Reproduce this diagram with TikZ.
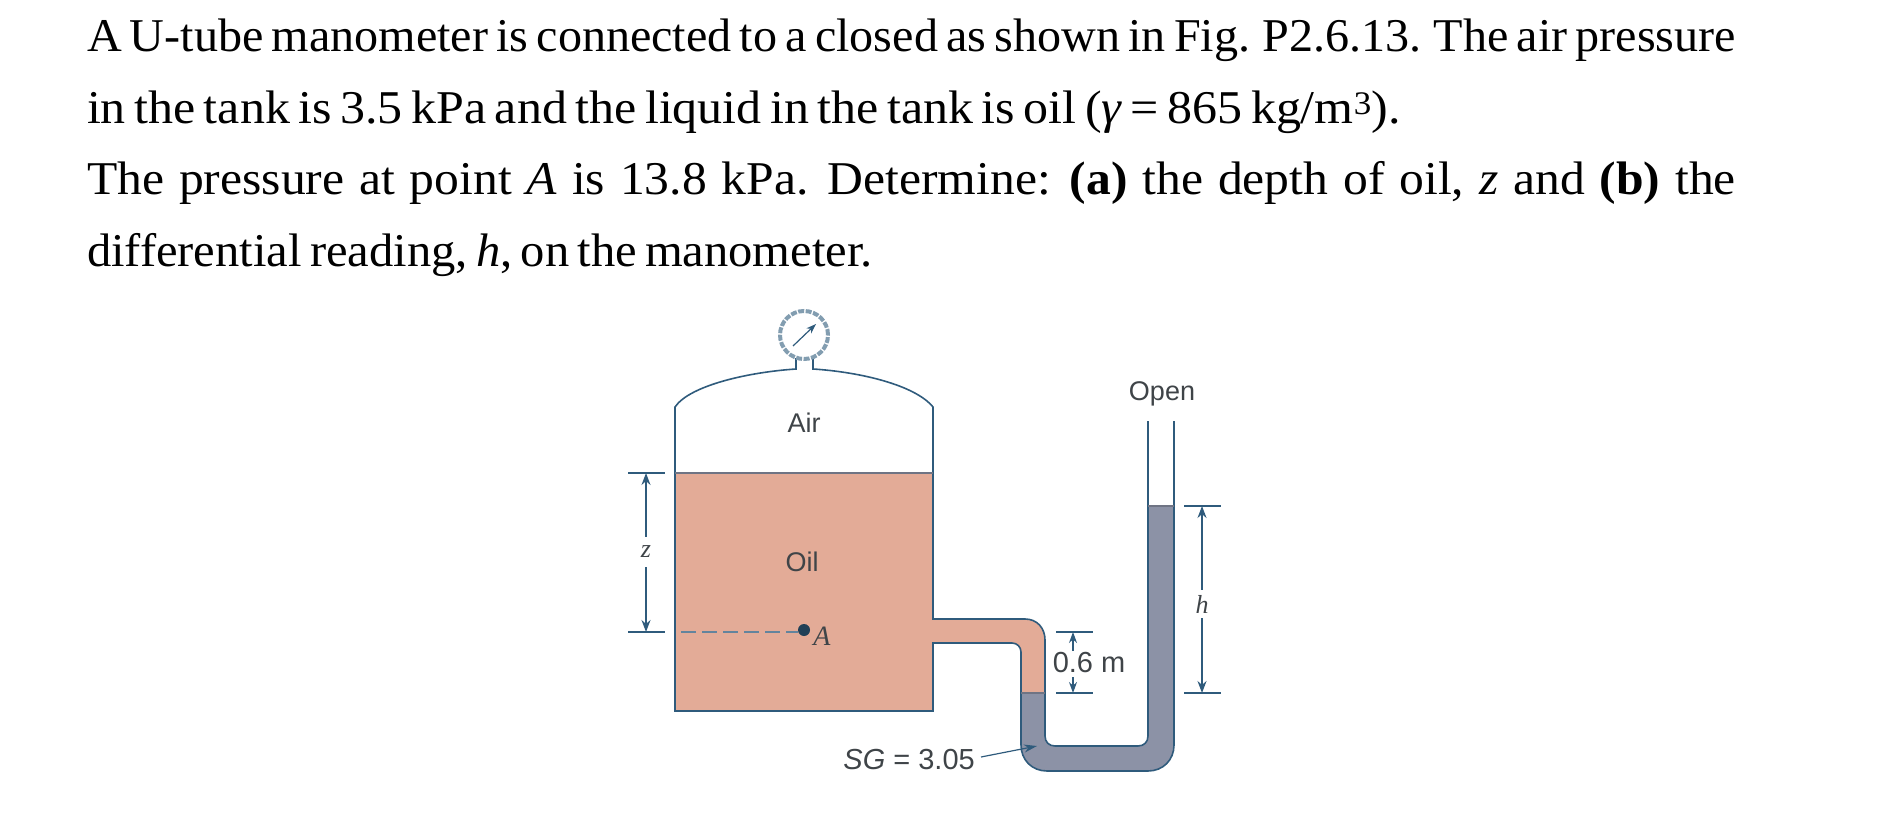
\documentclass[tikz,border=0pt]{standalone}
\usepackage{fontspec}
\usepackage{graphicx}
\setmainfont{Liberation Serif}
\setsansfont{Liberation Sans}
\usetikzlibrary{arrows.meta}
\definecolor{oilc}{HTML}{E3AB97}
\definecolor{hgc}{HTML}{8C92A6}
\definecolor{linec}{HTML}{2F5B7C}
\definecolor{ifacec}{HTML}{6F7484}
\definecolor{labc}{HTML}{3F4448}
\tikzset{
  para/.style={anchor=base west,inner sep=0pt,outer sep=0pt,text=black,font=\fontsize{47}{47}\selectfont},
  lab/.style={inner sep=0pt,text=labc,font=\sffamily\fontsize{27}{27}\selectfont},
  dimgap/.style={inner sep=0pt,text=labc,fill=none,font=\fontsize{26}{26}\selectfont\itshape},
  wall/.style={draw=linec,line width=1.6pt},
  tick/.style={draw=linec,line width=1.1pt},
  dimline/.style={draw=linec,line width=1.4pt,-{Stealth[length=12pt,width=9pt]}},
}
\newbox\plbox
% #1 target width in pt, #2 word space in em, #3 text
\newcommand{\paraline}[3]{%
  \setbox\plbox=\hbox{\spaceskip=#2em\relax #3}%
  \pgfmathsetmacro\plscale{#1/(\the\wd\plbox/1pt)}%
  \scalebox{\plscale}[1]{\box\plbox}}
\begin{document}
\begin{tikzpicture}[x=1pt,y=-1pt]
\useasboundingbox (0,0) rectangle (1886,821);
% paragraph
\node[para] (l1) at (87,52) {\paraline{1649}{.17}{A U-tube manometer is connected to a closed as shown in Fig. P2.6.13. The air pressure}};
\node[para] (l2) at (87,124) {\paraline{1314}{.17}{in the tank is 3.5 kPa and the liquid in the tank is oil (\textit{γ} = 865 kg/m\textsuperscript{3}).}};
\node[para] (l3) at (87,195) {\paraline{1649}{.3}{The pressure at point \textit{A} is 13.8 kPa. Determine: \textbf{(a)} the depth of oil, \textit{z} and \textbf{(b)} the}};
\node[para] (l4) at (87,266) {\paraline{786}{.17}{differential reading, \textit{h}, on the manometer.}};
% liquids
\fill[oilc] (675,473) -- (933,473) -- (933,619) -- (1025,619) .. controls (1037,619) and (1045,628) .. (1045,640) -- (1045,693) -- (1021,693) -- (1021,652) .. controls (1021,647) and (1017,643) .. (1012,643) -- (933,643) -- (933,711) -- (675,711) -- cycle;
\fill[hgc] (1021,693) -- (1045,693) -- (1045,736) .. controls (1045,742) and (1049,746) .. (1055,746) -- (1138,746) .. controls (1144,746) and (1148,742) .. (1148,736) -- (1148,506) -- (1174,506) -- (1174,745) .. controls (1174,760) and (1163,771) .. (1148,771) -- (1047,771) .. controls (1032,771) and (1021,760) .. (1021,745) -- cycle;
% walls
\draw[wall] (675,473) -- (675,407) .. controls (690,385) and (750,372) .. (796,369) -- (796,358);
\draw[wall] (813,358) -- (813,369) .. controls (860,372) and (915,385) .. (933,407) -- (933,473);
\draw[wall] (675,473) -- (675,711) -- (933,711) -- (933,643) -- (1012,643) .. controls (1017,643) and (1021,647) .. (1021,652) -- (1021,745) .. controls (1021,760) and (1032,771) .. (1047,771) -- (1148,771) .. controls (1163,771) and (1174,760) .. (1174,745) -- (1174,421);
\draw[wall] (933,473) -- (933,619) -- (1025,619) .. controls (1037,619) and (1045,628) .. (1045,640) -- (1045,736) .. controls (1045,742) and (1049,746) .. (1055,746) -- (1138,746) .. controls (1144,746) and (1148,742) .. (1148,736) -- (1148,421);
\draw[draw=ifacec,line width=2.4pt] (675,473) -- (933,473);
\draw[draw=ifacec,line width=2.4pt] (1021,693) -- (1045,693);
\draw[draw=ifacec,line width=1.5pt] (1148,506) -- (1174,506);
% gauge
\node[circle,draw=linec!60,line width=4pt,dash pattern=on 6pt off 1.5pt,minimum size=48pt,inner sep=0pt] (gauge) at (804,335) {};
\coordinate (needleA) at (793,346);
\coordinate (needleB) at (816,324);
\draw[draw=linec,line width=1.2pt,-{Stealth[length=10pt,width=7pt]}] (needleA) -- (needleB);
% labels
\node[lab] (air) at (804,423) {Air};
\node[lab] (oil) at (802,562) {Oil};
\node[lab] (open) at (1162,394) {Open};
\node[lab,anchor=center,font=\sffamily\fontsize{29}{29}\selectfont] (sixm) at (1089,663) {0.6 m};
\node[lab,anchor=east,font=\sffamily\fontsize{29}{29}\selectfont] (sg) at (975,760) {\textit{SG} = 3.05};
% z dimension
\coordinate (ztl) at (628,473); \coordinate (ztr) at (665,473);
\coordinate (zbl) at (628,632); \coordinate (zbr) at (665,632);
\coordinate (zt) at (646,473); \coordinate (zb) at (646,632);
\draw[draw=linec,line width=2pt] (ztl) -- (ztr);
\draw[tick] (zbl) -- (zbr);
\node[dimgap,minimum height=30pt] (zlab) at (646,552) {z};
\draw[dimline] (zlab) -- (zt);
\draw[dimline] (zlab) -- (zb);
% point A
\node[circle,fill=linec!70!black,inner sep=0pt,minimum size=12pt] (ptA) at (804,630) {};
\node[inner sep=0pt,text=labc,font=\fontsize{28}{28}\selectfont\itshape] (Alab) at (822,636) {A};
\coordinate (dashstart) at (681,632);
\draw[draw=linec!75,line width=1.2pt,dash pattern=on 15pt off 6pt] (dashstart) -- (ptA.west |- dashstart);
% h dimension
\coordinate (htl) at (1184,506); \coordinate (htr) at (1221,506);
\coordinate (hbl) at (1184,693); \coordinate (hbr) at (1221,693);
\coordinate (ht) at (1202,506); \coordinate (hb) at (1202,693);
\draw[tick] (htl) -- (htr);
\draw[tick] (hbl) -- (hbr);
\node[dimgap,minimum height=28pt] (hlab) at (1202,604) {h};
\draw[dimline] (hlab) -- (ht);
\draw[dimline] (hlab) -- (hb);
% 0.6 m dimension
\coordinate (stl) at (1056,632); \coordinate (str) at (1093,632);
\coordinate (sbl) at (1056,693); \coordinate (sbr) at (1093,693);
\coordinate (st) at (1073,632); \coordinate (sb) at (1073,693);
\coordinate (sm1) at (1073,651); \coordinate (sm2) at (1073,677);
\draw[tick] (stl) -- (str);
\draw[tick] (sbl) -- (sbr);
\draw[dimline,-{Stealth[length=11pt,width=8pt]}] (sm1) -- (st);
\draw[dimline,-{Stealth[length=11pt,width=8pt]}] (sm2) -- (sb);
% SG leader
\coordinate (sgend) at (1037,746);
\draw[draw=linec,line width=1.2pt,-{Stealth[length=13pt,width=8pt]}] (sg.east) ++(6,-3) coordinate (sgstart) -- (sgend);
\end{tikzpicture}
\end{document}
